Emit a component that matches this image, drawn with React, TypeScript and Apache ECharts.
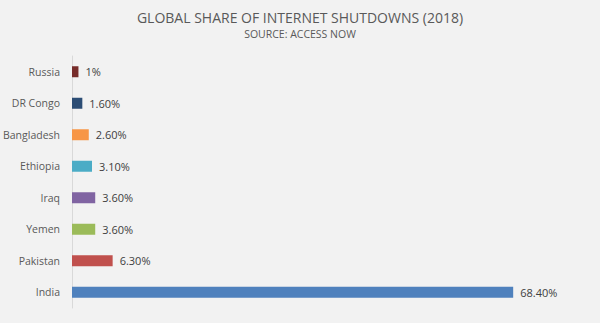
import React, { useEffect, useRef } from "react";
import * as echarts from "echarts";

const categories = ["India", "Pakistan", "Yemen", "Iraq", "Ethiopia", "Bangladesh", "DR Congo", "Russia"];
const values = [68.4, 6.3, 3.6, 3.6, 3.1, 2.6, 1.6, 1.0];
const valueLabels = ["68.40%", "6.30%", "3.60%", "3.60%", "3.10%", "2.60%", "1.60%", "1%"];
const colors = ["#4f81bd", "#c0504d", "#9bbb59", "#8064a2", "#4bacc6", "#f79646", "#2c4d75", "#772c2a"];

export default function App() {
  const ref = useRef<HTMLDivElement>(null);
  useEffect(() => {
    if (!ref.current) return;
    const chart = echarts.init(ref.current, null, { renderer: "svg" });
    const font = "'Open Sans', 'Liberation Sans', sans-serif";
    chart.setOption({
      animation: false,
      backgroundColor: "#f2f2f2",
      title: {
        text: "GLOBAL SHARE OF INTERNET SHUTDOWNS (2018)",
        subtext: "SOURCE: ACCESS NOW",
        left: "center",
        top: 5,
        itemGap: 4,
        textStyle: { fontFamily: font, fontSize: 14, fontWeight: "normal", color: "#595959" },
        subtextStyle: { fontFamily: font, fontSize: 10.5, color: "#595959" },
      },
      grid: { left: 71, right: 12, top: 56, bottom: 15, containLabel: false },
      xAxis: {
        type: "value",
        min: 0,
        max: 80,
        show: false,
      },
      yAxis: {
        type: "category",
        data: categories,
        axisLine: { show: true, lineStyle: { color: "#d9d9d9", width: 1 } },
        axisTick: { show: false },
        axisLabel: { fontFamily: font, fontSize: 10.5, color: "#595959", margin: 12 },
      },
      series: [
        {
          type: "bar",
          barWidth: 11,
          data: values.map((v, i) => ({ value: v, itemStyle: { color: colors[i] } })),
          label: {
            show: true,
            position: "right",
            distance: 7,
            fontFamily: font,
            fontSize: 11,
            color: "#404040",
            formatter: (p: any) => valueLabels[p.dataIndex],
          },
        },
      ],
    });
    return () => chart.dispose();
  }, []);
  return <div ref={ref} style={{ position: "fixed", left: 0, top: 0, width: 600, height: 323 }} />;
}
